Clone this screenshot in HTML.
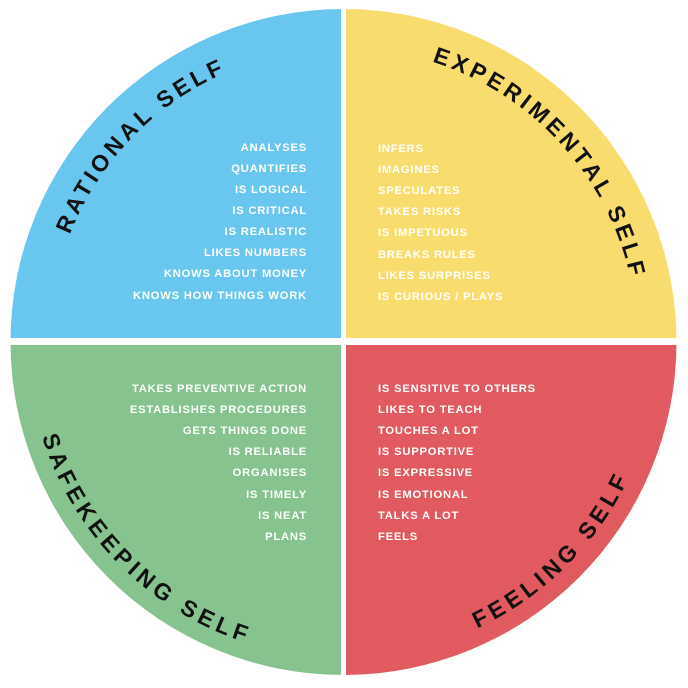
<!DOCTYPE html>
<html><head><meta charset="utf-8"><style>
html,body{margin:0;padding:0;background:#fff;}
svg{display:block;}
.t{font-family:"Liberation Sans",sans-serif;font-weight:bold;font-size:23px;letter-spacing:4.6px;fill:#111;}
.tt{letter-spacing:3.9px;}
.l{font-family:"Liberation Sans",sans-serif;font-weight:bold;font-size:11.2px;letter-spacing:0.8px;fill:#fff;}
</style></head><body>
<svg width="688" height="688" viewBox="0 0 688 688" xmlns="http://www.w3.org/2000/svg">
<defs>
<clipPath id="c"><circle cx="343.5" cy="342" r="333"/></clipPath>
<path id="pr" d="M 49.5 342 A 294 294 0 0 1 343.5 48"/>
<path id="pe" d="M 343.5 48 A 294 294 0 0 1 637.5 342"/>
<path id="ps" d="M 27.5 342 A 316 316 0 0 0 343.5 658"/>
<path id="pf" d="M 343.5 658 A 316 316 0 0 0 659.5 342"/>
</defs>
<g clip-path="url(#c)">
<rect x="0" y="0" width="341" height="338" fill="#68C6EF"/>
<rect x="346" y="0" width="342" height="338" fill="#F8DC6E"/>
<rect x="0" y="345" width="341" height="343" fill="#86C38F"/>
<rect x="346" y="345" width="342" height="343" fill="#E15A5F"/>
</g>
<text class="t tt"><textPath href="#pr" startOffset="49%" text-anchor="middle">RATIONAL SELF</textPath></text>
<text class="t tt"><textPath href="#pe" startOffset="53%" text-anchor="middle">EXPERIMENTAL SELF</textPath></text>
<text class="t"><textPath href="#ps" startOffset="50%" text-anchor="middle">SAFEKEEPING SELF</textPath></text>
<text class="t"><textPath href="#pf" startOffset="50%" text-anchor="middle">FEELING SELF</textPath></text>
<g class="l" text-anchor="end">
<text x="307" y="151">ANALYSES</text>
<text x="307" y="172">QUANTIFIES</text>
<text x="307" y="193">IS LOGICAL</text>
<text x="307" y="214">IS CRITICAL</text>
<text x="307" y="235">IS REALISTIC</text>
<text x="307" y="256">LIKES NUMBERS</text>
<text x="307" y="277">KNOWS ABOUT MONEY</text>
<text x="307" y="299">KNOWS HOW THINGS WORK</text>
<text x="307" y="392">TAKES PREVENTIVE ACTION</text>
<text x="307" y="413">ESTABLISHES PROCEDURES</text>
<text x="307" y="434">GETS THINGS DONE</text>
<text x="307" y="455">IS RELIABLE</text>
<text x="307" y="476">ORGANISES</text>
<text x="307" y="498">IS TIMELY</text>
<text x="307" y="519">IS NEAT</text>
<text x="307" y="540">PLANS</text>
</g>
<g class="l">
<text x="378" y="152">INFERS</text>
<text x="378" y="173">IMAGINES</text>
<text x="378" y="194">SPECULATES</text>
<text x="378" y="215">TAKES RISKS</text>
<text x="378" y="236">IS IMPETUOUS</text>
<text x="378" y="258">BREAKS RULES</text>
<text x="378" y="279">LIKES SURPRISES</text>
<text x="378" y="300">IS CURIOUS / PLAYS</text>
<text x="378" y="392">IS SENSITIVE TO OTHERS</text>
<text x="378" y="413">LIKES TO TEACH</text>
<text x="378" y="434">TOUCHES A LOT</text>
<text x="378" y="455">IS SUPPORTIVE</text>
<text x="378" y="476">IS EXPRESSIVE</text>
<text x="378" y="498">IS EMOTIONAL</text>
<text x="378" y="519">TALKS A LOT</text>
<text x="378" y="540">FEELS</text>
</g>
</svg>
</body></html>
